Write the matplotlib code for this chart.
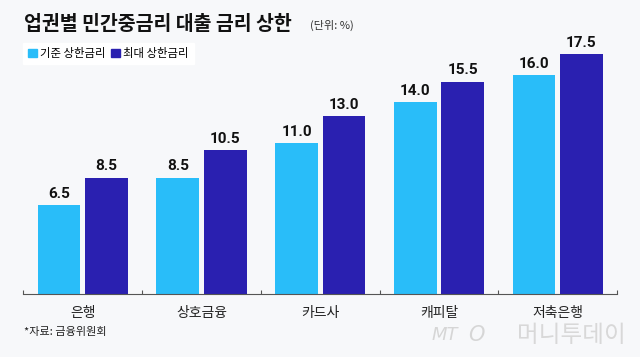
import numpy as np
import matplotlib
matplotlib.use("Agg")
import matplotlib.pyplot as plt
from matplotlib.patches import Patch

plt.rcParams['font.family'] = ['Noto Sans CJK KR', 'DejaVu Sans']

# data
categories = ['은행', '상호금융', '카드사', '캐피탈', '저축은행']
base_rate = [6.5, 8.5, 11.0, 14.0, 16.0]
max_rate = [8.5, 10.5, 13.0, 15.5, 17.5]
series_names = ['기준 상한금리', '최대 상한금리']

bg = '#f7f8fa'
c_light = '#29bdf9'
c_dark = '#2a20b0'

W, H = 640, 357
fig = plt.figure(figsize=(W / 100, H / 100), dpi=100, facecolor=bg)
ax = fig.add_axes([23.5 / W, 63 / H, (617 - 23.5) / W, (294 - 40.5) / H])
ax.set_facecolor(bg)

x = np.arange(len(categories))
b1 = ax.bar(x - 0.2, base_rate, width=0.36, color=c_light, zorder=2)
b2 = ax.bar(x + 0.2, max_rate, width=0.36, color=c_dark, zorder=2)

for bars in (b1, b2):
    ax.bar_label(bars, fmt='%.1f', padding=3, fontsize=11,
                 fontfamily='Roboto', fontweight='bold', color='#111111')

ax.set_xlim(-0.5, len(categories) - 0.5)
ax.set_ylim(0, 18.5)
ax.set_yticks([])
for s in ('left', 'right', 'top'):
    ax.spines[s].set_visible(False)
ax.spines['bottom'].set_color('#555555')
ax.spines['bottom'].set_linewidth(0.8)

ax.set_xticks(x)
ax.set_xticklabels(categories, fontsize=10, color='#222222')
ax.tick_params(axis='x', which='major', length=0, pad=9)
ax.set_xticks(np.arange(-0.5, len(categories)), minor=True)
ax.tick_params(axis='x', which='minor', length=3, direction='in',
               color='#555555', width=0.8)

# title
fig.text(24 / W, 1 - 24 / H, '업권별 민간중금리 대출 금리 상한', fontsize=14,
         fontweight='heavy', va='center', ha='left', color='#111111')
fig.text(310 / W, 1 - 25 / H, '(단위: %)', fontsize=8, va='center',
         ha='left', color='#333333')

# legend
handles = [Patch(color=c_light), Patch(color=c_dark)]
leg = fig.legend(handles, series_names, loc='upper left',
                 bbox_to_anchor=(23 / W, 1 - 43 / H), ncol=2, fontsize=8.2,
                 frameon=True, fancybox=False, facecolor='white',
                 edgecolor='white', framealpha=1, handlelength=0.75,
                 handleheight=0.75, handletextpad=0.3, columnspacing=0.5,
                 borderpad=0.45, borderaxespad=0)

# source and watermark
fig.text(24 / W, 1 - 332 / H, '*자료: 금융위원회', fontsize=8,
         va='center', ha='left', color='#222222')
fig.text(432 / W, 1 - 335 / H, 'MT', fontsize=13, style='italic',
         fontfamily='DejaVu Sans', va='center', ha='left', color='#d6d6d6')
fig.text(468 / W, 1 - 335 / H, 'O', fontsize=15, style='italic',
         fontfamily='DejaVu Sans', va='center', ha='left', color='#d6d6d6')
fig.text(626 / W, 1 - 335 / H, '머니투데이', fontsize=17, fontweight='light',
         va='center', ha='right', color='#d8d8d8')

fig.savefig('out.png', dpi=100, facecolor=bg)
